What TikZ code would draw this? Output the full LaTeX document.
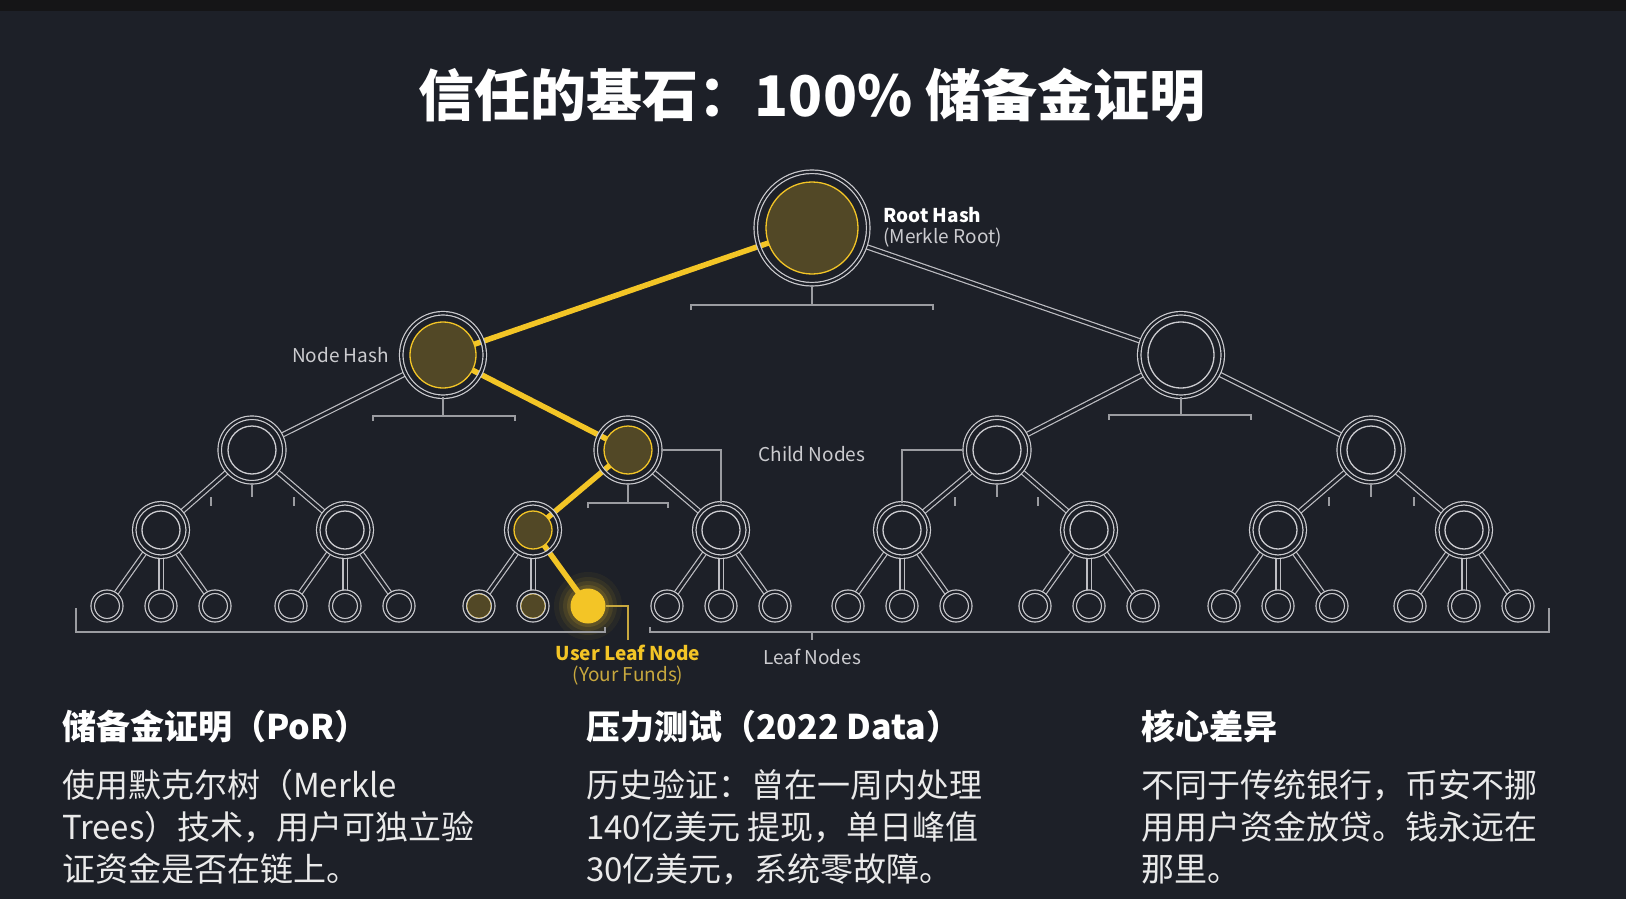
\documentclass[tikz,border=0pt]{standalone}
\usepackage{fontspec}
\setmainfont{Noto Sans CJK SC}
\usetikzlibrary{positioning}
\pgfdeclarelayer{canvas}
\pgfdeclarelayer{back}
\pgfsetlayers{canvas,back,main}

\definecolor{bgc}{RGB}{29,32,40}
\definecolor{topbar}{RGB}{21,21,23}
\definecolor{ring}{RGB}{204,204,208}
\definecolor{gold}{RGB}{243,197,38}
\definecolor{olive}{RGB}{82,72,38}
\definecolor{dimgold}{RGB}{200,168,62}
\definecolor{txt}{RGB}{234,234,234}

\tikzset{
    core r/.store in=\corer, core r=10pt,
    core fill/.store in=\corefill, core fill=bgc,
    core draw/.store in=\coredraw, core draw=ring,
    hash node/.style={circle,draw=ring,line width=1.2pt,double=bgc,double distance=2.3pt,inner sep=0pt,minimum size=#1,
        path picture={\draw[draw=\coredraw,fill=\corefill,line width=1.3pt] (path picture bounding box.center) circle[radius=\corer];}},
    gold node/.style={core fill=olive,core draw=gold},
    leaf node/.style={circle,draw=ring,line width=1.2pt,double=bgc,double distance=2.3pt,inner sep=0pt,minimum size=28.5pt,fill=bgc},
    link/.style={draw=ring!92!bgc,line width=1.2pt,double=bgc,double distance=3pt},
    proof/.style={draw=gold,line width=5.5pt,line cap=round,line join=round},
    bracket/.style={draw=ring!72!bgc,line width=1.2pt},
    lbl/.style={font=\fontsize{19}{22}\selectfont,text=ring,inner sep=0pt},
    lbl bold/.style={lbl,font=\fontsize{19}{22}\selectfont\bfseries,text=white},
    title/.style={font=\fontsize{56}{60}\selectfont\bfseries,text=white,inner sep=0pt},
    head/.style={font=\fontsize{34}{40}\selectfont\bfseries,text=white,anchor=base west,inner sep=0pt},
    body/.style={font=\fontsize{33}{40}\selectfont,text=txt,anchor=base west,inner sep=0pt},
}

\begin{document}
\begin{tikzpicture}[x=1pt,y=-1pt]
    \begin{pgfonlayer}{canvas}
        \fill[bgc] (0,0) rectangle (1626,899);
        \fill[topbar] (0,0) rectangle (1626,11);
    \end{pgfonlayer}
    \useasboundingbox (0,0) rectangle (1626,899);

    \node[title,anchor=base] (title) at (812,116) {信任的基石：100\% 储备金证明};

    \node[hash node=112.5pt,core r=46pt,gold node] (root) at (812,228) {};
    \node[hash node=83.5pt,core r=33pt,gold node] (h1) at (443,355) {};
    \node[hash node=83.5pt,core r=33pt] (h2) at (1181,355) {};

    \foreach \x/\cf/\cd [count=\i] in {252/bgc/ring,628/olive/gold,997/bgc/ring,1371/bgc/ring}
        \node[hash node=64.5pt,core r=24pt,core fill=\cf,core draw=\cd] (c\i) at (\x,450) {};

    \foreach \x/\cf/\cd [count=\i] in {161/bgc/ring,345/bgc/ring,533/olive/gold,721/bgc/ring,902/bgc/ring,1089/bgc/ring,1278/bgc/ring,1464/bgc/ring} {
        \node[hash node=53.5pt,core r=19pt,core fill=\cf,core draw=\cd] (d\i) at (\x,530) {};
        \foreach \dx [count=\j] in {-54,0,54} {
            \ifnum\i=3 \else
                \node[leaf node] (l\i-\j) at (\x+\dx,606) {};
            \fi
        }
    }
    \node[leaf node,fill=olive,path picture={\draw[gold,line width=1.3pt] (path picture bounding box.center) circle[radius=12.5pt];}] (l3-1) at (479,606) {};
    \node[leaf node,fill=olive,path picture={\draw[gold,line width=1.3pt] (path picture bounding box.center) circle[radius=12.5pt];}] (l3-2) at (533,606) {};
    \node[circle,fill=gold,minimum size=35pt,inner sep=0pt] (l3-3) at (588,606) {};

    \begin{pgfonlayer}{back}
        \foreach \r/\o in {34/0.05,29/0.07,25/0.1,21/0.14}
            \fill[gold,opacity=\o] (l3-3.center) circle[radius=\r pt];
        \draw[link] (root) -- (h2);
        \draw[link] (h1) -- (c1) (h2) -- (c3) (h2) -- (c4);
        \draw[link] (c1) -- (d1) (c1) -- (d2) (c2) -- (d4) (c3) -- (d5) (c3) -- (d6) (c4) -- (d7) (c4) -- (d8);
        \foreach \i in {1,...,8}
            \foreach \j in {1,2,3} {
                \ifnum\i\j=33 \else
                    \draw[link] (d\i) -- (l\i-\j);
                \fi
            }
        \draw[proof] (root.center) -- (h1.center) -- (c2.center) -- (d3.center) -- (l3-3.center);
    \end{pgfonlayer}

    \draw[bracket] (root.south) -- ++(0,20);
    \draw[bracket] (691,310) -- (691,305) -- (933,305) -- (933,310);
    \draw[bracket] (h1.south) -- ++(0,19);
    \draw[bracket] (373,421) -- (373,416) -- (515,416) -- (515,421);
    \draw[bracket] (h2.south) -- ++(0,18);
    \draw[bracket] (1109,420) -- (1109,415) -- (1251,415) -- (1251,420);
    \draw[bracket] (c2.south) -- ++(0,20);
    \draw[bracket] (588,508) -- (588,503) -- (668,503) -- (668,508);
    \draw[bracket] (c1.south) -- ++(0,14) (211,497) -- (211,506) (294,497) -- (294,506);
    \draw[bracket] (c3.south) -- ++(0,14) (955,497) -- (955,506) (1038,497) -- (1038,506);
    \draw[bracket] (c4.south) -- ++(0,14) (1329,497) -- (1329,506) (1414,497) -- (1414,506);
    \draw[bracket] (c2.east) -| (d4.north);
    \draw[bracket] (c3.west) -| (d5.north);
    \draw[bracket] (76,608) -- (76,632) -- (605,632) -- (605,627);
    \draw[bracket] (650,627) -- (650,632) -- (1549,632) -- (1549,608);
    \draw[bracket] (812,632) -- (812,640);
    \coordinate (userpin) at (628,640);
    \draw[draw=dimgold,line width=1.2pt] (l3-3.east) -| (userpin);

    \node[lbl bold,anchor=base west] (rootname) at (883,222) {Root Hash};
    \node[lbl,anchor=base west] (rootsub) at (883,243) {(Merkle Root)};
    \node[lbl,anchor=base east] (nodehash) at (389,362) {Node Hash};
    \node[lbl,anchor=base] (childlbl) at (812,461) {Child Nodes};
    \node[lbl,anchor=base] (leaflbl) at (812,664) {Leaf Nodes};
    \node[lbl bold,anchor=base,text=gold] (userlbl) at (628,660) {User Leaf Node};
    \node[lbl,text=dimgold] (usersub) [below=5pt of userlbl] {(Your Funds)};

    \node[head] (porhead) at (62,739) {储备金证明（PoR）};
    \node[head] (testhead) at (586,739) {压力测试（2022 Data）};
    \node[head] (diffhead) at (1141,739) {核心差异};
    \foreach \t [count=\i] in {使用默克尔树（Merkle,Trees）技术，用户可独立验,证资金是否在链上。}
        \node[body] (por\i) at (62,755+42*\i) {\t};
    \foreach \t [count=\i] in {历史验证：曾在一周内处理,140亿美元 提现，单日峰值,30亿美元，系统零故障。}
        \node[body] (test\i) at (586,755+42*\i) {\t};
    \foreach \t [count=\i] in {不同于传统银行，币安不挪,用用户资金放贷。钱永远在,那里。}
        \node[body] (diff\i) at (1141,755+42*\i) {\t};
\end{tikzpicture}
\end{document}
